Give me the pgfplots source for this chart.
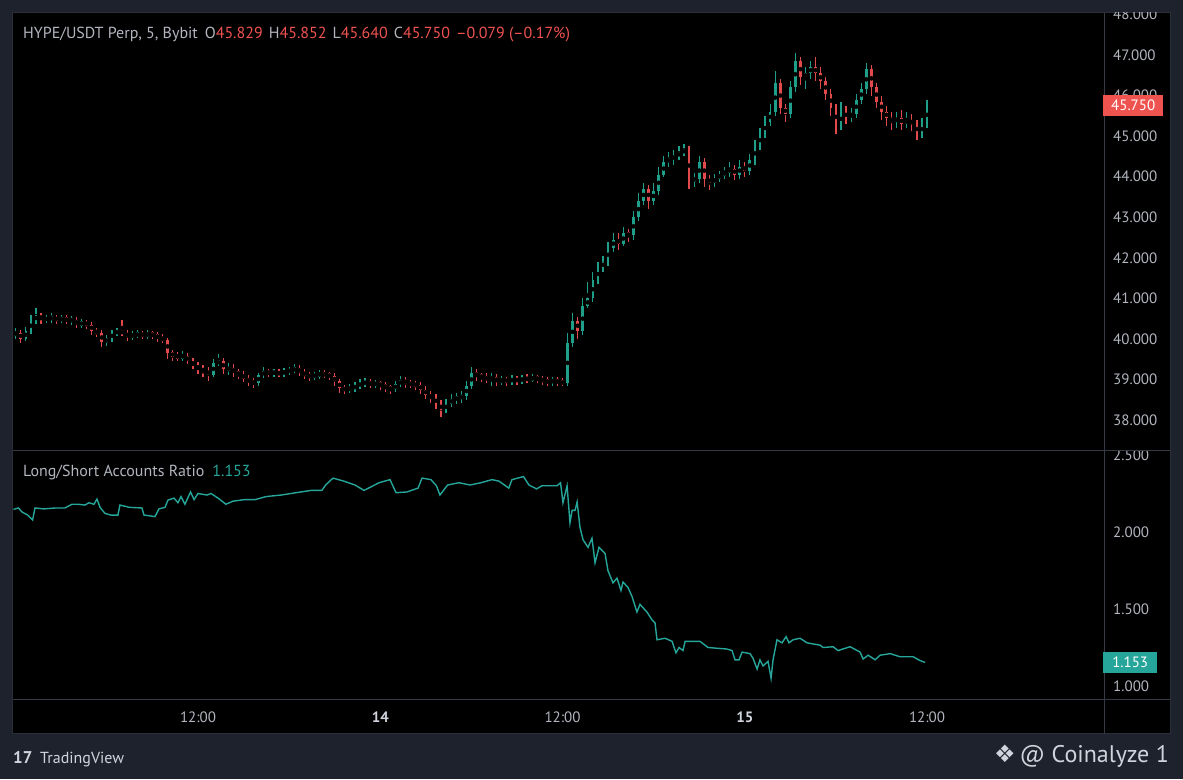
\documentclass[border=0pt]{standalone}
\usepackage{pgfplots}
\pgfplotsset{compat=1.18}
\usepackage{pgfplotstable}
\usepackage{fontspec}
\setmainfont{PT Sans}
\newfontfamily\djv{DejaVu Sans}
\definecolor{tvbg}{HTML}{1E222D}
\definecolor{tvframe}{HTML}{2A2E39}
\definecolor{tvsep}{HTML}{363A45}
\definecolor{tvtext}{HTML}{B2B5BE}
\definecolor{tvlight}{HTML}{D1D4DC}
\definecolor{tvred}{HTML}{EF5350}
\definecolor{tvup}{HTML}{26A69A}
\definecolor{cred}{HTML}{E04A4A}
\definecolor{cup}{HTML}{1F9E8A}

\pgfplotstableread{
i o h l c
0 40.10 40.22 40.05 40.15
1 40.15 40.18 39.95 40.00
2 40.00 40.25 40.00 40.20
3 40.20 40.55 40.18 40.45
4 40.45 40.70 40.42 40.58
5 40.58 40.60 40.42 40.48
6 40.48 40.55 40.43 40.50
7 40.50 40.60 40.45 40.52
8 40.52 40.55 40.42 40.47
9 40.47 40.55 40.44 40.50
10 40.50 40.53 40.42 40.46
11 40.46 40.52 40.40 40.47
12 40.47 40.48 40.32 40.36
13 40.36 40.44 40.33 40.40
14 40.40 40.42 40.30 40.35
15 40.35 40.36 40.15 40.20
16 40.20 40.22 40.10 40.15
17 40.15 40.16 39.85 39.92
18 39.92 40.05 39.88 40.00
19 40.00 40.18 39.98 40.15
20 40.15 40.22 40.12 40.18
21 40.18 40.42 40.12 40.15
22 40.15 40.17 40.00 40.05
23 40.05 40.14 40.03 40.10
24 40.10 40.17 40.07 40.12
25 40.12 40.15 40.05 40.08
26 40.08 40.16 40.05 40.12
27 40.12 40.15 40.04 40.10
28 40.10 40.12 39.98 40.02
29 40.02 40.06 39.95 39.98
30 39.98 39.98 39.55 39.65
31 39.65 39.68 39.50 39.58
32 39.58 39.62 39.50 39.55
33 39.55 39.66 39.50 39.58
34 39.58 39.60 39.42 39.45
35 39.45 39.47 39.30 39.35
36 39.35 39.38 39.18 39.25
37 39.25 39.30 39.10 39.22
38 39.22 39.25 39.02 39.12
39 39.12 39.45 39.10 39.40
40 39.40 39.58 39.38 39.45
41 39.45 39.48 39.18 39.25
42 39.25 39.35 39.15 39.28
43 39.28 39.32 39.12 39.18
44 39.18 39.20 39.05 39.12
45 39.12 39.15 38.98 39.02
46 39.02 39.05 38.90 38.95
47 38.95 38.98 38.85 38.92
48 38.92 39.12 38.90 39.10
49 39.10 39.25 39.08 39.20
50 39.20 39.22 39.10 39.15
51 39.15 39.22 39.12 39.18
52 39.18 39.20 39.10 39.14
53 39.14 39.24 39.12 39.20
54 39.20 39.26 39.16 39.22
55 39.22 39.32 39.20 39.28
56 39.28 39.30 39.14 39.18
57 39.18 39.20 39.06 39.10
58 39.10 39.14 39.02 39.08
59 39.08 39.14 39.04 39.10
60 39.10 39.18 39.06 39.14
61 39.14 39.18 39.08 39.12
62 39.12 39.14 39.04 39.08
63 39.08 39.10 38.90 38.95
64 38.95 38.96 38.72 38.78
65 38.78 38.82 38.70 38.75
66 38.75 38.84 38.72 38.78
67 38.78 38.88 38.74 38.85
68 38.85 38.95 38.82 38.90
69 38.90 38.98 38.86 38.93
70 38.93 38.96 38.84 38.88
71 38.88 38.94 38.84 38.90
72 38.90 38.92 38.80 38.86
73 38.86 38.88 38.74 38.80
74 38.80 38.82 38.70 38.76
75 38.76 38.92 38.74 38.88
76 38.88 39.04 38.86 38.98
77 38.98 39.00 38.85 38.90
78 38.90 38.94 38.84 38.88
79 38.88 38.92 38.80 38.86
80 38.86 38.88 38.70 38.75
81 38.75 38.78 38.58 38.62
82 38.62 38.66 38.48 38.55
83 38.55 38.58 38.32 38.40
84 38.40 38.45 38.12 38.25
85 38.25 38.46 38.22 38.40
86 38.40 38.58 38.36 38.52
87 38.52 38.62 38.45 38.55
88 38.55 38.66 38.48 38.58
89 38.58 38.90 38.55 38.85
90 38.85 39.25 38.82 39.15
91 39.15 39.20 39.02 39.10
92 39.10 39.12 38.98 39.05
93 39.05 39.10 38.96 39.02
94 39.02 39.10 38.90 39.05
95 39.05 39.08 38.88 38.95
96 38.95 39.04 38.92 38.98
97 38.98 39.02 38.90 38.96
98 38.96 39.06 38.92 39.00
99 39.00 39.04 38.92 38.98
100 38.98 39.06 38.94 39.02
101 39.02 39.08 38.96 39.00
102 39.00 39.08 38.98 39.04
103 39.04 39.06 38.96 39.02
104 39.02 39.04 38.92 38.96
105 38.96 39.00 38.90 38.95
106 38.95 39.02 38.90 38.97
107 38.97 39.00 38.90 38.94
108 38.94 38.98 38.88 38.92
109 38.92 40.10 38.90 39.90
110 39.90 40.60 39.85 40.45
111 40.45 40.50 40.05 40.20
112 40.20 40.95 40.15 40.80
113 40.80 41.35 40.80 41.00
114 41.00 41.60 40.95 41.45
115 41.45 41.85 41.40 41.75
116 41.75 42.00 41.70 41.90
117 41.90 42.35 41.85 42.25
118 42.25 42.55 42.20 42.45
119 42.45 42.55 42.25 42.35
120 42.35 42.70 42.35 42.60
121 42.60 42.65 42.45 42.55
122 42.55 43.10 42.50 43.00
123 43.00 43.55 42.95 43.40
124 43.40 43.80 43.35 43.70
125 43.70 43.75 43.25 43.40
126 43.40 43.80 43.35 43.65
127 43.65 44.20 43.60 44.05
128 44.05 44.45 44.05 44.35
129 44.35 44.55 44.30 44.45
130 44.45 44.60 44.35 44.50
131 44.50 44.70 44.45 44.60
132 44.60 44.75 44.55 44.65
133 44.65 44.70 43.75 43.90
134 43.90 44.05 43.80 43.95
135 43.95 44.45 43.90 44.35
136 44.35 44.40 43.80 43.95
137 43.95 44.00 43.72 43.85
138 43.85 44.02 43.80 43.95
139 43.95 44.10 43.92 44.05
140 44.05 44.20 44.00 44.10
141 44.10 44.30 44.05 44.20
142 44.20 44.25 43.98 44.05
143 44.05 44.35 44.00 44.25
144 44.25 44.30 44.05 44.15
145 44.15 44.50 44.10 44.40
146 44.40 44.85 44.35 44.75
147 44.75 45.15 44.70 45.05
148 45.05 45.45 45.00 45.35
149 45.35 45.75 45.30 45.60
150 45.60 46.55 45.55 46.30
151 46.30 46.35 45.60 45.70
152 45.70 45.75 45.40 45.55
153 45.55 46.30 45.50 46.20
154 46.20 47.00 46.15 46.85
155 46.85 46.90 46.30 46.45
156 46.45 46.65 46.20 46.55
157 46.55 46.80 46.45 46.70
158 46.70 46.90 46.40 46.55
159 46.55 46.65 46.20 46.35
160 46.35 46.40 45.95 46.05
161 46.05 46.10 45.55 45.70
162 45.70 45.75 45.10 45.25
163 45.25 45.80 45.20 45.60
164 45.60 45.70 45.35 45.45
165 45.45 45.65 45.40 45.55
166 45.55 46.00 45.50 45.90
167 45.90 46.25 45.85 46.15
168 46.15 46.75 46.10 46.65
169 46.65 46.70 46.05 46.20
170 46.20 46.25 45.75 45.85
171 45.85 45.95 45.45 45.60
172 45.60 45.70 45.30 45.45
173 45.45 45.55 45.20 45.35
174 45.35 45.55 45.25 45.45
175 45.45 45.60 45.20 45.30
176 45.30 45.55 45.25 45.40
177 45.40 45.50 45.18 45.30
178 45.30 45.35 44.95 45.05
179 45.05 45.40 45.00 45.30
180 45.30 45.85 45.25 45.75
}\candles

\pgfplotstableread{
h r
-0.15 2.147
0.18 2.156
0.41 2.13
0.79 2.11
1.11 2.078
1.27 2.156
1.86 2.15
2.62 2.156
3.24 2.156
3.70 2.18
4.10 2.18
4.56 2.175
4.82 2.19
5.15 2.18
5.35 2.214
5.55 2.16
5.88 2.12
6.27 2.11
6.73 2.11
6.86 2.175
7.49 2.16
8.31 2.156
8.44 2.11
9.17 2.10
9.43 2.15
9.83 2.16
10.02 2.207
10.42 2.22
10.68 2.19
10.88 2.23
11.14 2.18
11.51 2.26
11.74 2.21
12.00 2.25
12.59 2.24
12.86 2.25
13.32 2.22
13.84 2.18
14.30 2.20
15.03 2.21
15.75 2.21
16.48 2.23
17.47 2.24
18.45 2.255
19.44 2.27
20.16 2.27
20.40 2.305
20.89 2.35
21.61 2.33
22.34 2.305
22.93 2.27
23.33 2.29
23.92 2.32
24.64 2.34
25.04 2.255
25.76 2.26
26.49 2.285
26.75 2.35
27.34 2.34
27.70 2.30
27.93 2.24
28.43 2.305
29.18 2.32
29.91 2.305
30.63 2.32
31.36 2.34
31.82 2.33
32.46 2.285
32.67 2.34
33.43 2.36
33.79 2.305
34.29 2.28
34.65 2.30
35.64 2.30
35.87 2.32
36.03 2.19
36.30 2.30
36.49 2.06
36.63 2.14
36.82 2.14
36.96 2.195
37.15 2.03
37.35 1.95
37.68 1.90
37.94 1.96
38.14 1.80
38.40 1.90
38.80 1.86
38.99 1.75
39.32 1.67
39.59 1.70
39.85 1.62
39.98 1.675
40.31 1.64
40.58 1.58
40.90 1.48
41.10 1.53
41.56 1.48
41.89 1.43
42.09 1.41
42.22 1.30
42.75 1.31
43.21 1.29
43.47 1.215
43.67 1.25
43.93 1.23
44.07 1.29
44.59 1.29
45.05 1.29
45.58 1.25
46.17 1.245
46.83 1.24
47.16 1.23
47.36 1.17
47.62 1.17
47.82 1.22
48.35 1.21
48.54 1.18
48.81 1.11
49.00 1.17
49.20 1.13
49.53 1.16
49.73 1.05
49.86 1.17
50.12 1.30
50.45 1.28
50.72 1.32
50.91 1.28
51.18 1.30
51.64 1.31
52.10 1.28
52.96 1.265
53.15 1.25
53.81 1.255
54.14 1.23
54.93 1.255
55.59 1.22
55.79 1.175
56.12 1.20
56.58 1.17
56.91 1.20
57.57 1.21
58.22 1.19
59.08 1.19
59.54 1.165
59.87 1.153
}\lsratio

\pgfplotsset{
  upc/.style={restrict expr to domain={\thisrow{c}-\thisrow{o}}{0:100}},
  dnc/.style={restrict expr to domain={\thisrow{c}-\thisrow{o}}{-100:-0.0001}},
  tvaxis/.style={
    scale only axis, width=1091pt,
    xmin=-0.18, xmax=71.65,
    axis line style={draw=none}, tick style={draw=none}, major tick length=0pt,
    yticklabel pos=right,
    ticklabel style={font=\fontsize{15}{18}\selectfont, text=tvtext},
    yticklabel style={anchor=west, inner sep=0pt, xshift=9pt},
    /pgf/number format/assume math mode=true,
    /pgf/number format/fixed, /pgf/number format/fixed zerofill,
    /pgf/number format/precision=3,
    clip mode=individual,
  },
  wick/.style={only marks, mark=none, forget plot,
    error bars/y dir=both, error bars/y explicit, error bars/error mark=none,
    error bars/error bar style={draw=#1, line width=1.2pt}},
  body/.style={only marks, mark=none, forget plot,
    error bars/y dir=both, error bars/y explicit, error bars/error mark=none,
    error bars/error bar style={draw=#1, line width=2.7pt}},
}

\begin{document}
\begin{tikzpicture}
\fill[tvbg] (0pt,0pt) rectangle (1183pt,779pt);
\filldraw[fill=black, draw=tvframe, line width=1pt] (12.5pt,45pt) rectangle (1170pt,766.5pt);

% price panel
\begin{axis}[tvaxis, at={(13pt,328pt)}, anchor=south west, height=438pt,
  ymin=37.236, ymax=48.036, ytick={38,39,...,48}, xtick=\empty]
  \addplot[upc, wick=cup] table[x expr=\thisrow{i}/3, y expr={(\thisrow{h}+\thisrow{l})/2}, y error expr={(\thisrow{h}-\thisrow{l})/2+0.05}]{\candles};
  \addplot[upc, body=cup] table[x expr=\thisrow{i}/3, y expr={(\thisrow{o}+\thisrow{c})/2}, y error expr={max(abs(\thisrow{c}-\thisrow{o})/2,0.05)}]{\candles};
  \addplot[dnc, wick=cred] table[x expr=\thisrow{i}/3, y expr={(\thisrow{h}+\thisrow{l})/2}, y error expr={(\thisrow{h}-\thisrow{l})/2+0.05}]{\candles};
  \addplot[dnc, body=cred] table[x expr=\thisrow{i}/3, y expr={(\thisrow{o}+\thisrow{c})/2}, y error expr={max(abs(\thisrow{c}-\thisrow{o})/2,0.05)}]{\candles};
  \coordinate (plast) at (axis cs:71.65,45.75);
\end{axis}

% ratio panel
\begin{axis}[tvaxis, at={(13pt,79pt)}, anchor=south west, height=248pt,
  ymin=0.909, ymax=2.5195, ytick={1,1.5,2,2.5},
  xtick={12,24,36,48,60},
  xticklabels={12:00,{\color{tvlight}\bfseries 14},12:00,{\color{tvlight}\bfseries 15},12:00},
  xticklabel style={anchor=center, inner sep=0pt, yshift=-17pt}]
  \addplot[tvup, line width=1.4pt] table[x=h, y=r]{\lsratio};
  \coordinate (rlast) at (axis cs:71.65,1.153);
\end{axis}

% covers for clipped labels
\fill[tvbg] (0pt,766.5pt) rectangle (1183pt,779pt);
\fill[black] (1104.5pt,328pt) rectangle (1169.5pt,340pt);

% separators
\draw[tvsep, line width=1pt] (12.5pt,328pt) -- (1170pt,328pt);
\draw[tvsep, line width=1pt] (12.5pt,79pt) -- (1170pt,79pt);
\draw[tvsep, line width=1pt] (1104pt,45pt) -- (1104pt,766pt);

% last value labels
\node[fill=tvred, text=white, anchor=west, minimum width=60pt, minimum height=21pt, inner sep=0pt, font=\fontsize{15}{18}\selectfont] at ([xshift=-1pt]plast) {45.750};
\node[fill=tvup, text=white, anchor=west, minimum width=54pt, minimum height=21pt, inner sep=0pt, font=\fontsize{15}{18}\selectfont] at ([xshift=-1pt]rlast) {1.153};

% headers
\node[anchor=base west, inner sep=0pt, font=\fontsize{16}{19}\selectfont, text=tvtext] at (23pt,740.5pt)
  {HYPE/USDT Perp, 5, Bybit\hspace{7pt}O\textcolor{tvred}{45.829}\hspace{6pt}H\textcolor{tvred}{45.852}\hspace{6pt}L\textcolor{tvred}{45.640}\hspace{6pt}C\textcolor{tvred}{45.750}\hspace{6pt}\textcolor{tvred}{–0.079 (–0.17\%)}};
\node[anchor=base west, inner sep=0pt, font=\fontsize{16}{19}\selectfont, text=tvtext] at (23pt,302.5pt)
  {Long/Short Accounts Ratio\hspace{8pt}\textcolor{tvup}{1.153}};

% footer
\node[anchor=base west, inner sep=0pt, font=\fontsize{17}{20}\selectfont\bfseries, text=tvlight] at (13pt,16pt) {17};
\node[anchor=base west, inner sep=0pt, font=\fontsize{16}{19}\selectfont, text=tvlight] at (40pt,16pt) {TradingView};
\node[anchor=base west, inner sep=0pt, font=\fontsize{24}{28}\selectfont, text=tvlight] at (994pt,17pt) {{\djv ❖}\,@ Coinalyze 1};

\pgfresetboundingbox
\useasboundingbox (0pt,0pt) rectangle (1183pt,779pt);
\end{tikzpicture}
\end{document}
